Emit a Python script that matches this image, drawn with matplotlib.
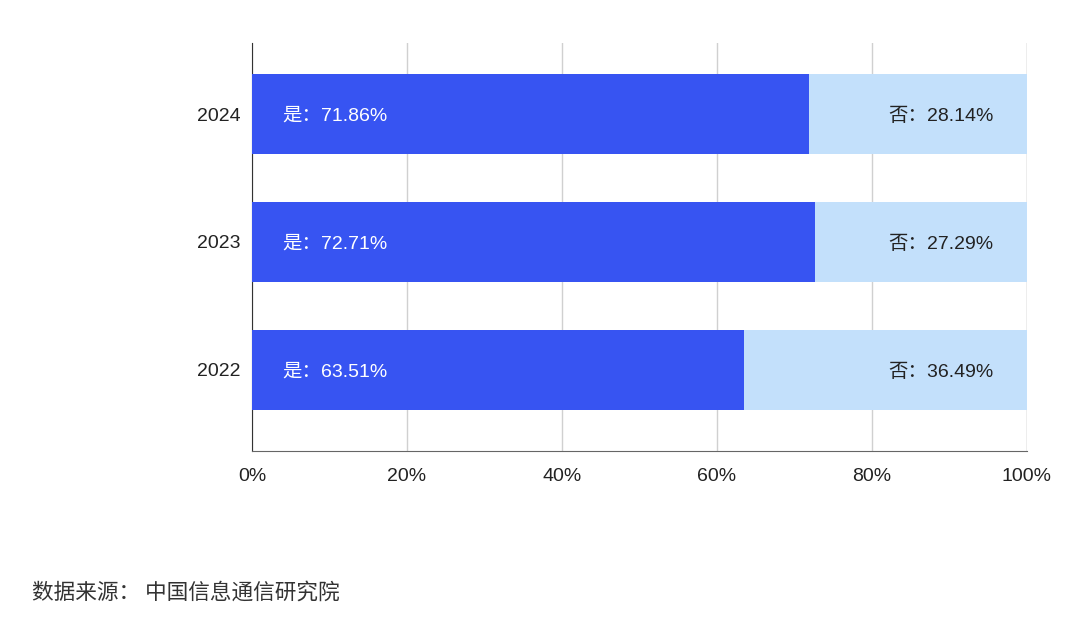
import matplotlib.pyplot as plt
import numpy as np

plt.rcParams['font.family'] = ['Liberation Sans', 'Noto Sans CJK SC', 'DejaVu Sans']

years = ['2022', '2023', '2024']
yes_vals = [63.51, 72.71, 71.86]
no_vals = [36.49, 27.29, 28.14]
xticks = [0, 20, 40, 60, 80, 100]
xtick_labels = ['0%', '20%', '40%', '60%', '80%', '100%']

fig = plt.figure(figsize=(10.8, 6.23), dpi=100)
ax = fig.add_axes([0.2333, 0.2761, 0.7176, 0.6549])

y = np.arange(len(years))
ax.barh(y, yes_vals, height=0.625, color='#3754F2', zorder=3)
ax.barh(y, no_vals, left=yes_vals, height=0.625, color='#C3E0FB', zorder=3)

for i in range(len(years)):
    ax.text(3.9, y[i], '是：%.2f%%' % yes_vals[i], color='white', fontsize=14,
            va='center_baseline', ha='left', zorder=4)
    ax.text(95.7, y[i], '否：%.2f%%' % no_vals[i], color='#222222', fontsize=14,
            va='center_baseline', ha='right', zorder=4)

ax.set_xlim(0, 100)
ax.set_ylim(-0.633, 2.555)
ax.set_yticks(y)
ax.set_yticklabels(years, fontsize=14, color='#222222', va='center_baseline')
ax.set_xticks(xticks)
ax.set_xticklabels(xtick_labels, fontsize=14, color='#222222')
ax.tick_params(axis='both', length=0)
ax.tick_params(axis='y', pad=8)
ax.tick_params(axis='x', pad=12)

ax.grid(axis='x', color='#d0d0d0', linewidth=1, zorder=0)
for s in ['top', 'right']:
    ax.spines[s].set_visible(False)
ax.spines['left'].set_color('#333333')
ax.spines['bottom'].set_color('#666666')
ax.axvline(100, color='#d0d0d0', linewidth=1, zorder=0)

fig.text(32 / 1080, 1 - 593 / 623, '数据来源： 中国信息通信研究院', fontsize=15.6,
         color='#333333', va='center', ha='left',
         family=['Noto Sans CJK SC', 'DejaVu Sans'])

fig.savefig('out.png', dpi=100)
